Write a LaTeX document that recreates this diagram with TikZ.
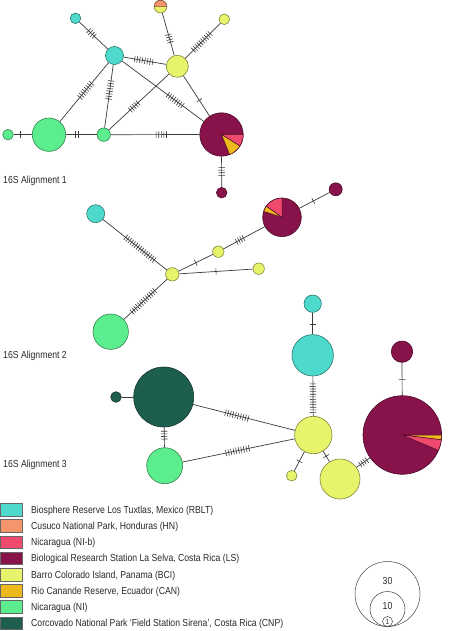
\documentclass[tikz,border=0pt]{standalone}
\usepackage{fontspec}
\setmainfont{Liberation Sans}[FakeStretch=0.85]
\usetikzlibrary{decorations.markings}
\definecolor{cRBLT}{HTML}{4DD9CB}
\definecolor{cHN}{HTML}{F4956B}
\definecolor{cNIb}{HTML}{F04B6E}
\definecolor{cLS}{HTML}{88134A}
\definecolor{cBCI}{HTML}{E7F46B}
\definecolor{cCAN}{HTML}{EDB91C}
\definecolor{cNI}{HTML}{5CEE8E}
\definecolor{cCNP}{HTML}{1D5E4F}
\definecolor{lnc}{HTML}{3A3A3A}
\definecolor{txc}{HTML}{2A2A2A}
\tikzset{
  hap/.style={circle, fill=#1, draw=#1!55!black, line width=0.6pt, inner sep=0pt},
  slc/.style={draw=cLS!55!black, line width=0.5pt},
  lnkline/.style={draw=lnc, line width=0.7pt},
  tickln/.style={draw=lnc, line width=0.6pt},
  ticks/.style 2 args={postaction={decorate, decoration={markings,
      mark=at position #2 with {\foreach \k in {1,...,#1}{\draw[tickln] ({(\k-(#1+1)/2)*2.6pt},-3.2pt) -- ({(\k-(#1+1)/2)*2.6pt},3.2pt);}}}}},
  lbl/.style={anchor=base west, text=txc, inner sep=0pt},
  swatch/.style={rectangle, fill=#1, draw=black!60, line width=0.4pt, minimum width=22pt, minimum height=12.5pt, inner sep=0pt},
  sizec/.style={circle, draw=black!75, line width=0.5pt, inner sep=0pt},
}
\newcommand\lnk[4]{\draw[lnkline, ticks={#3}{#4}] (#1) -- (#2);}
\begin{document}
\begin{tikzpicture}[x=1pt, y=-1pt, font=\fontsize{10.2}{12}\selectfont]
\fill[white] (0,0) rectangle (474,631);
\useasboundingbox (0,0) rectangle (474,631);

% ---------- Alignment 1 ----------
\node[hap=cRBLT, minimum size=10.6pt] (scy) at (75.5,18.3) {};
\node[hap=cRBLT, minimum size=18pt] (cy1) at (114.5,55.5) {};
\node[hap=cBCI, minimum size=12.6pt] (hn) at (160.5,6.6) {};
\filldraw[fill=cHN, draw=cHN!55!black, line width=0.5pt] (hn.center) ++(180:6.3pt) arc[start angle=180, end angle=0, radius=6.3pt] -- cycle;
\node[hap=cBCI, minimum size=10.6pt] (ysm) at (224.3,19.3) {};
\node[hap=cBCI, minimum size=22pt] (y1) at (177.3,66.3) {};
\node[hap=cNI, minimum size=33.4pt] (gbig) at (49,134.7) {};
\node[hap=cNI, minimum size=10.6pt] (gsl) at (8,134.7) {};
\node[hap=cNI, minimum size=13.4pt] (gmid) at (103.7,134.7) {};
\node[hap=cLS, minimum size=43.4pt] (ls1) at (221.5,134.5) {};
\filldraw[slc, fill=cNIb] (ls1.center) -- ++(0:21.7pt) arc[start angle=0, end angle=-32, radius=21.7pt] -- cycle;
\filldraw[slc, fill=cCAN] (ls1.center) -- ++(-32:21.7pt) arc[start angle=-32, end angle=-68, radius=21.7pt] -- cycle;
\node[hap=cLS, minimum size=10.6pt] (lss1) at (221.7,192.7) {};

\lnk{scy}{cy1}{4}{0.42}
\lnk{cy1}{y1}{8}{0.47}
\lnk{hn}{y1}{4}{0.6}
\lnk{y1}{ysm}{10}{0.47}
\lnk{cy1}{gbig}{8}{0.47}
\lnk{cy1}{gmid}{8}{0.4}
\lnk{cy1}{ls1}{8}{0.65}
\lnk{y1}{gmid}{5}{0.58}
\lnk{y1}{ls1}{1}{0.61}
\lnk{gsl}{gbig}{1}{0.39}
\lnk{gbig}{gmid}{2}{0.35}
\lnk{gmid}{ls1}{5}{0.57}
\lnk{ls1}{lss1}{4}{0.49}

\node[lbl] (t1) at (3,183.6) {16S Alignment 1};

% ---------- Alignment 2 ----------
\node[hap=cRBLT, minimum size=18pt] (cy2) at (95.7,213.7) {};
\node[hap=cBCI, minimum size=13.4pt] (yh2) at (172.3,274.3) {};
\node[hap=cBCI, minimum size=11.4pt] (y2a) at (218.3,251.7) {};
\node[hap=cBCI, minimum size=11.4pt] (y2b) at (258.7,268.7) {};
\node[hap=cLS, minimum size=38.6pt] (ls2) at (282,217.3) {};
\filldraw[slc, fill=cNIb] (ls2.center) -- ++(90:19.3pt) arc[start angle=90, end angle=145, radius=19.3pt] -- cycle;
\filldraw[slc, fill=cCAN] (ls2.center) -- ++(145:19.3pt) arc[start angle=145, end angle=162, radius=19.3pt] -- cycle;
\node[hap=cLS, minimum size=13pt] (lss2) at (335.7,189.3) {};
\node[hap=cNI, minimum size=35.4pt] (g2) at (110.7,331.7) {};

\lnk{cy2}{yh2}{15}{0.58}
\lnk{g2}{yh2}{13}{0.45}
\lnk{yh2}{y2a}{1}{0.5}
\lnk{yh2}{y2b}{1}{0.5}
\lnk{y2a}{ls2}{4}{0.4}
\lnk{ls2}{lss2}{1}{0.46}

\node[lbl] (t2) at (3,358.6) {16S Alignment 2};

% ---------- Alignment 3 ----------
\node[hap=cCNP, minimum size=60pt] (cnp) at (163.7,397) {};
\node[hap=cCNP, minimum size=10.6pt] (cnps) at (116,397) {};
\node[hap=cNI, minimum size=36pt] (g3) at (164.7,465.7) {};
\node[hap=cRBLT, minimum size=17.4pt] (cys) at (312.7,303.7) {};
\node[hap=cRBLT, minimum size=41.4pt] (cyb) at (312.7,355.3) {};
\node[hap=cBCI, minimum size=37.4pt] (yh3) at (313.3,435) {};
\node[hap=cBCI, minimum size=10.6pt] (yt) at (291.7,475.7) {};
\node[hap=cBCI, minimum size=40pt] (y3) at (340,479) {};
\node[hap=cLS, minimum size=21.4pt] (ls3s) at (402,351.7) {};
\node[hap=cLS, minimum size=78.6pt] (ls3) at (402.3,435) {};
\filldraw[slc, fill=cCAN] (ls3.center) -- ++(0:39.3pt) arc[start angle=0, end angle=-7, radius=39.3pt] -- cycle;
\filldraw[slc, fill=cNIb] (ls3.center) -- ++(-7:39.3pt) arc[start angle=-7, end angle=-23, radius=39.3pt] -- cycle;

\draw[lnkline] (cnps) -- (cnp);
\lnk{cnp}{g3}{4}{0.39}
\lnk{cnp}{yh3}{10}{0.43}
\lnk{g3}{yh3}{10}{0.49}
\lnk{cys}{cyb}{1}{0.52}
\lnk{cyb}{yh3}{12}{0.55}
\lnk{yh3}{yt}{1}{0.5}
\lnk{yh3}{y3}{1}{0.47}
\lnk{y3}{ls3}{4}{0.52}
\lnk{ls3s}{ls3}{1}{0.51}

\node[lbl] (t3) at (3,467.6) {16S Alignment 3};

% ---------- Legend ----------
\foreach \c/\t [count=\i] in {
  cRBLT/{Biosphere Reserve Los Tuxtlas, Mexico (RBLT)},
  cHN/{Cusuco National Park, Honduras (HN)},
  cNIb/{Nicaragua (NI-b)},
  cLS/{Biological Research Station La Selva, Costa Rica (LS)},
  cBCI/{Barro Colorado Island, Panama (BCI)},
  cCAN/{Rio Canande Reserve, Ecuador (CAN)},
  cNI/{Nicaragua (NI)},
  cCNP/{Corcovado National Park ‘Field Station Sirena’, Costa Rica (CNP)}}{
  \node[swatch=\c] (sw\i) at (11,{509.7+16.2*(\i-1)}) {};
  \node[lbl] (lt\i) at (31,{513.35+16.2*(\i-1)}) {\t};
}

% size legend
\node[sizec, minimum size=65pt] (s30) at (387.5,594) {};
\node[sizec, minimum size=35pt] (s10) at (387.5,609) {};
\node[sizec, minimum size=10pt] (s1) at (387.5,621.5) {};
\node[text=txc, inner sep=0pt] (n30) at (387.5,580.7) {30};
\node[text=txc, inner sep=0pt] (n10) at (387.5,605.7) {10};
\node[text=txc, inner sep=0pt, font=\fontsize{7.5}{8}\selectfont] (n1) at (387.5,621.5) {1};
\end{tikzpicture}
\end{document}
